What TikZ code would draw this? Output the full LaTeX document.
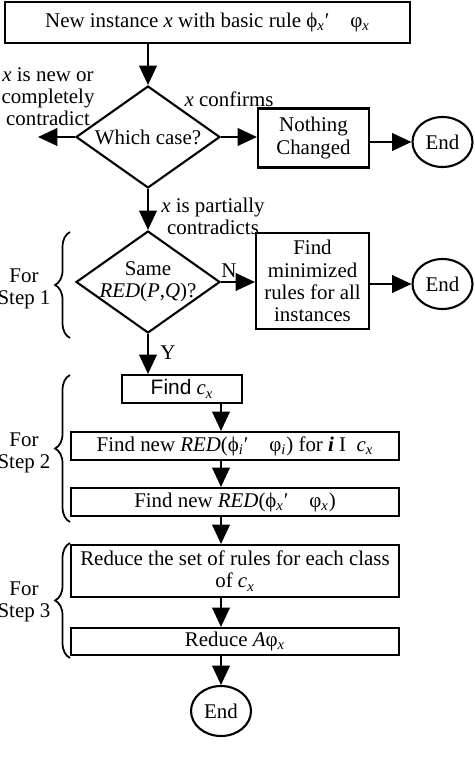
\documentclass[tikz,border=0pt]{standalone}
\usepackage{fontspec}
\setmainfont{Liberation Serif}
\setsansfont{Liberation Sans}
\usetikzlibrary{shapes.geometric,arrows.meta,decorations.pathreplacing}

\newcommand{\sbx}[1]{\textsubscript{\textit{#1}}}

\tikzset{
  every node/.style={font=\fontsize{11.9}{12.6}\selectfont},
  box/.style={draw, line width=1.2pt, inner sep=0pt, align=center},
  choice/.style={draw, diamond, line width=1.2pt, inner sep=0pt, inner xsep=-5pt,
    aspect=1.41, align=center, minimum width=2.88cm, minimum height=2.04cm},
  stop/.style={draw, ellipse, line width=1.2pt, inner sep=0pt,
    minimum width=1.2cm, minimum height=1cm},
  lbl/.style={align=center, inner sep=0pt},
  arr/.style={line width=1.2pt, -{Triangle[length=11pt,width=10pt]}},
  brc/.style={decorate, decoration={brace, amplitude=8.5pt}, line width=1pt}
}

\begin{document}
\begin{tikzpicture}[x=0.02cm,y=-0.02cm]
        \useasboundingbox (0,0) rectangle (474,763);

        % Draw boxes, decisions and ends
        \node[box, minimum width=8.1cm, minimum height=0.82cm] (start) at (207.5,22.5)
          {New instance \textit{x} with basic rule ϕ\sbx{x}′\quad φ\sbx{x}};
        \node[choice] (case) at (148,137) {Which case?};
        \node[box, minimum width=2.22cm, minimum height=1.18cm] (nothing) at (313.5,138) {Nothing\\Changed};
        \node[stop] (endA) at (442.5,142) {End};
        \node[choice] (same) at (148,282) {Same\\\textit{RED}(\textit{P},\textit{Q})?};
        \node[box, minimum width=2.26cm, minimum height=1.92cm] (minimize) at (312.5,281)
          {Find\\minimized\\rules for all\\instances};
        \node[stop] (endB) at (442.5,284) {End};
        \node[box, minimum width=2.4cm, minimum height=0.56cm] (findc) at (182,389)
          {{\sffamily Find} \textit{c}\sbx{x}};
        \node[box, minimum width=6.56cm, minimum height=0.56cm] (redi) at (235,446)
          {Find new \textit{RED}(ϕ\sbx{i}′\quad φ\sbx{i}) for \textbf{\textit{i}} I\enspace\textit{c}\sbx{x}};
        \node[box, minimum width=6.56cm, minimum height=0.56cm] (redx) at (235,502)
          {Find new \textit{RED}(ϕ\sbx{x}′\quad φ\sbx{x})};
        \node[box, minimum width=6.56cm, minimum height=1.04cm] (reduce) at (235,571)
          {Reduce the set of rules for each class\\of \textit{c}\sbx{x}};
        \node[box, minimum width=6.56cm, minimum height=0.54cm] (reduceA) at (235,641.5)
          {Reduce \textit{A}φ\sbx{x}};
        \node[stop] (endC) at (221,711) {End};
        \coordinate (newcase) at (38,137);

        % Draw labels
        \node[lbl] (newlbl) at (48,97) {\textit{x} is new or\\completely\\contradict};
        \node[lbl] (confirm) at (229,99) {\textit{x} confirms};
        \node[lbl] (partial) at (213,216) {\textit{x} is partially\\contradicts};
        \node[lbl] (no) at (229,271) {N};
        \node[lbl] (yes) at (168,353) {Y};

        % Draw arrows
        \draw[arr] (start.south -| case) -- (case.north);
        \draw[arr] (case.west) -- (newcase);
        \draw[arr] (case.east) -- (case.east -| nothing.west);
        \draw[arr] (nothing.east |- endA) -- (endA.west);
        \draw[arr] (case.south) -- (same.north);
        \draw[arr] (same.east) -- (same.east -| minimize.west);
        \draw[arr] (minimize.east |- endB) -- (endB.west);
        \draw[arr] (same.south) -- (findc.north -| same);
        \draw[arr] (findc.south -| endC) -- (redi.north -| endC);
        \draw[arr] (redi.south -| endC) -- (redx.north -| endC);
        \draw[arr] (redx.south -| endC) -- (reduce.north -| endC);
        \draw[arr] (reduce.south -| endC) -- (reduceA.north -| endC);
        \draw[arr] (reduceA.south -| endC) -- (endC.north);

        % Draw braces for steps
        \draw[brc] (70,338) -- (70,232);
        \draw[brc] (70,522) -- (70,375);
        \draw[brc] (70,658) -- (70,543);
        \node[lbl] (stepA) at (24,289) {For\\Step 1};
        \node[lbl] (stepB) at (24,453) {For\\Step 2};
        \node[lbl] (stepC) at (24,602) {For\\Step 3};
      \end{tikzpicture}
\end{document}
